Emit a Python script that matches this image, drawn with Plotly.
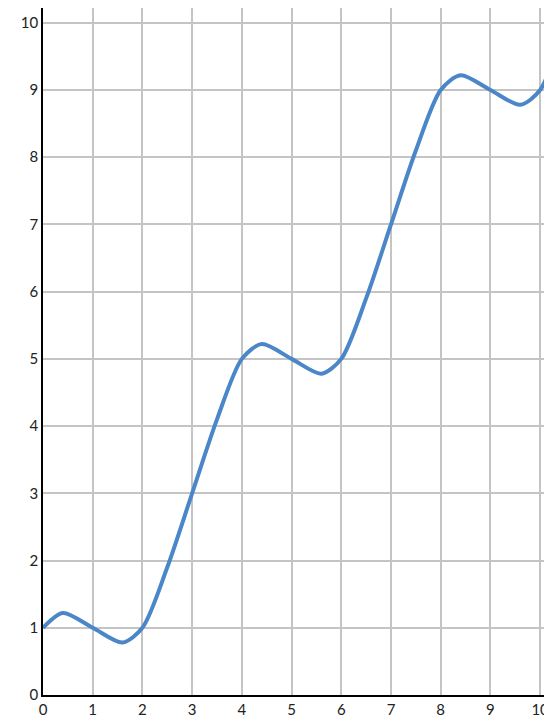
import plotly.graph_objects as go

x_vals = [0, 0.4, 1, 1.6, 2, 2.5, 3, 3.5, 4, 4.4, 5, 5.6, 6, 6.5, 7, 7.5, 8, 8.4, 9, 9.6, 10, 10.4]
y_vals = [1, 1.22, 1, 0.78, 1, 1.9, 3, 4.1, 5, 5.22, 5, 4.78, 5, 5.9, 7, 8.1, 9, 9.22, 9, 8.78, 9, 9.75]

fig = go.Figure()
fig.add_trace(go.Scatter(
    x=x_vals, y=y_vals, mode='lines',
    line=dict(color='#4a86c8', width=4, shape='spline', smoothing=0.8),
    showlegend=False,
))

axis_common = dict(
    showgrid=True, gridcolor='#c4c4c4', gridwidth=1.5,
    showline=True, linecolor='black', linewidth=1.5,
    zeroline=False, dtick=1, ticks='outside', ticklen=0,
    automargin=False,
    tickfont=dict(family='Lato', size=15, color='#222'),
)
fig.update_layout(
    width=552, height=722,
    margin=dict(l=35, r=0, t=0, b=35),
    plot_bgcolor='white', paper_bgcolor='white',
    xaxis=dict(range=[0, 10.4], **axis_common),
    yaxis=dict(range=[0, 10.22], **axis_common),
)
fig.write_html("out.html")
